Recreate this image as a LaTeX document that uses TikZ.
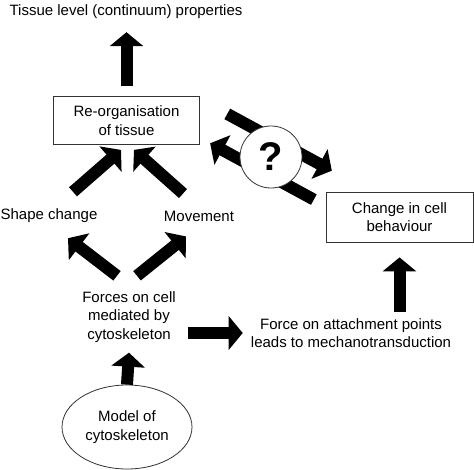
\documentclass[tikz,border=0pt]{standalone}
\usepackage{fontspec}
\setmainfont{Liberation Sans}
\usetikzlibrary{arrows.meta,shapes.geometric,calc}
\newcommand{\figFont}[0]{\fontsize{15}{18.5}\selectfont}

\begin{document}
\begin{tikzpicture}[x=1pt, y=-1pt, font=\figFont]
  \tikzset{every node/.style={align=center, inner sep=2pt},
    box/.style={draw=black!80, line width=0.8pt, minimum width=146pt, minimum height=48pt},
    blk/.style={line width=12pt, -{Triangle[width=33pt,length=14pt]}}}
  \useasboundingbox (0,0) rectangle (474,470);

  \node (tissue) at (126,12) {Tissue level (continuum) properties};
  \node[box] (reorg) at (126.5,120.5) {Re-organisation\\of tissue};
  \node (shape) at (49,216) {Shape change};
  \node (move) at (199,216) {Movement};
  \node (forces) at (129,317) {Forces on cell\\mediated by\\cytoskeleton};
  \node (attach) at (351,333) {Force on attachment points\\leads to mechanotransduction};
  \node[box, minimum width=147pt, minimum height=50pt] (change) at (399.5,217) {Change in cell\\behaviour};
  \node[draw=black!80, line width=0.8pt, ellipse, inner sep=0pt, minimum width=130pt, minimum height=84pt] (model) at (127,427) {Model of\\cytoskeleton};
  \coordinate (qc) at (271,157);

  \draw[blk] ([yshift=10pt]reorg.north) -- ([yshift=-11pt]reorg.north |- tissue.south);
  \draw[blk] ([xshift=24pt,yshift=15pt]shape.north) -- ([xshift=-5.5pt,yshift=-5pt]reorg.south);
  \draw[blk] ([xshift=-16pt,yshift=15pt]move.north) -- ([xshift=7.5pt,yshift=-5pt]reorg.south);
  \draw[blk] ([xshift=-12pt,yshift=13.5pt]forces.north) -- ([xshift=19pt,yshift=-13pt]shape.south);
  \draw[blk] ([xshift=8pt,yshift=13.5pt]forces.north) -- ([xshift=-13pt,yshift=-13pt]move.south);
  \draw[blk] ([xshift=10pt]forces.east |- attach.west) -- ([xshift=-6pt]attach.west);
  \draw[blk] ([yshift=4pt]change.south |- attach.north) -- ([yshift=-15pt]change.south);
  \draw[blk] (model.north) -- ([yshift=-8pt]forces.south);
  \draw[blk] ($(qc)+(-61.5:17)+(208.5:59)$) -- ($(qc)+(-61.5:17)+(28.5:60)$);
  \draw[blk] ($(qc)+(118.5:17)+(28.5:58)$) -- ($(qc)+(118.5:17)+(208.5:60)$);

  \node[draw=black!80, line width=0.8pt, circle, fill=white, inner sep=0pt, minimum size=62pt, font=\fontsize{40}{40}\selectfont\bfseries] (q) at (qc) {?};
\end{tikzpicture}
\end{document}
